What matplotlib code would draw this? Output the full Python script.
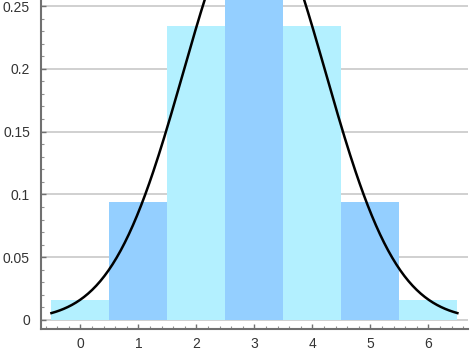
import numpy as np
import matplotlib.pyplot as plt
from matplotlib.ticker import MultipleLocator
from math import comb

# binomial n=6, p=0.5 and its normal approximation
ks = [0, 1, 2, 3, 4, 5, 6]
probs = [comb(6, k) / 64 for k in ks]
mu, sigma = 3.0, np.sqrt(1.5)

LIGHT = "#b3f0ff"
DARK = "#94cfff"
bar_colors = [LIGHT if k % 2 == 0 else DARK for k in ks]

plt.rcParams["font.family"] = ["Liberation Sans", "DejaVu Sans"]

fig = plt.figure(figsize=(4.74, 3.56), dpi=100)
ax = fig.add_axes([0.0865, 0.0758, 0.9005, 0.9242])

ax.bar(ks, probs, width=1.0, color=bar_colors, zorder=2, linewidth=0)

xs = np.linspace(-0.5, 6.5, 300)
pdf = np.exp(-(xs - mu) ** 2 / (2 * sigma ** 2)) / (sigma * np.sqrt(2 * np.pi))
ax.plot(xs, pdf, color="black", lw=1.8, zorder=3)

ax.set_xlim(-0.68, 6.68)
ax.set_ylim(-0.0072, 0.2548)

ax.yaxis.set_major_locator(MultipleLocator(0.05))
ax.yaxis.set_minor_locator(MultipleLocator(0.01))
ax.xaxis.set_major_locator(MultipleLocator(1))
ax.xaxis.set_minor_locator(MultipleLocator(0.2))
ax.set_yticks([0, 0.05, 0.1, 0.15, 0.2, 0.25])
ax.set_yticklabels(["0", "0.05", "0.1", "0.15", "0.2", "0.25"])
ax.set_xticks(ks)

ax.grid(axis="y", which="major", color="#c8c8c8", lw=1.2, zorder=1)
ax.set_axisbelow(True)

for s in ["top", "right"]:
    ax.spines[s].set_visible(False)
for s in ["left", "bottom"]:
    ax.spines[s].set_color("#707070")
    ax.spines[s].set_linewidth(1.5)

ax.tick_params(which="major", direction="in", length=3.5, width=1, color="#707070",
               labelsize=10, labelcolor="#333333")
ax.tick_params(which="minor", direction="in", length=2, width=0.8, color="#909090")
ax.tick_params(axis="y", pad=8)
ax.tick_params(axis="x", pad=6)

fig.savefig("out.png", dpi=100)
